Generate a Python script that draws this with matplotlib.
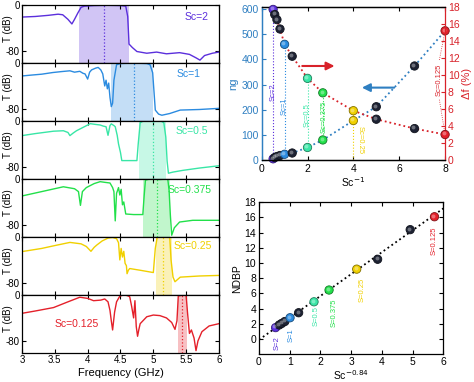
import matplotlib
matplotlib.use('Agg')
import matplotlib.pyplot as plt
import matplotlib.colors as mcolors
from matplotlib.transforms import offset_copy

# ---- transmission spectra (Frequency GHz, T dB) ----
f_sc2 = [3.0, 3.2, 3.4, 3.55, 3.62, 3.7, 3.76, 3.8, 3.85, 3.88, 3.9, 3.95, 4.1, 4.3, 4.5, 4.58,
         4.61, 4.63, 4.68, 4.75, 4.9, 5.05, 5.2, 5.4, 5.55, 5.65, 5.71, 5.78, 5.9, 6.0]
t_sc2 = [-21, -20, -18, -16, -17, -25, -33, -25, -14, -8, -4, -2, -1, -0.5, -1, -2,
         -20, -68, -74, -81, -84, -82, -85, -83, -86, -92, -96, -88, -84, -82]

f_sc1 = [3.0, 3.15, 3.3, 3.47, 3.6, 3.73, 3.8, 3.88, 3.93, 3.96, 4.0, 4.03, 4.06, 4.12, 4.16,
         4.2, 4.23, 4.26, 4.28, 4.3, 4.32, 4.34, 4.36, 4.38, 4.4, 4.44, 4.5, 4.7, 4.9, 4.95,
         4.99, 5.03, 5.08, 5.13, 5.25, 5.41, 5.7, 6.0]
t_sc1 = [-22.6, -21, -19.5, -16.6, -15, -13.6, -16, -14.5, -18, -19, -28, -16, -12, -9, -7.7,
         -12, -19, -40, -30, -45, -35, -60, -76, -70, -30, -3, -1, 0, -1, -3,
         -17, -82, -89, -91, -88, -82, -81, -79]

f_sc05 = [3.0, 3.2, 3.48, 3.63, 3.7, 3.73, 3.78, 3.83, 3.95, 4.04, 4.12, 4.19, 4.24, 4.28,
          4.31, 4.34, 4.36, 4.4, 4.42, 4.45, 4.47, 4.5, 4.52, 4.6, 4.75, 4.77, 4.8, 4.85,
          5.0, 5.12, 5.16, 5.19, 5.21, 5.23, 5.3, 5.45, 5.7, 6.0]
t_sc05 = [-25.5, -22, -17.8, -17, -20, -25.5, -21, -17, -10, -4.7, -6, -7, -9, -10,
          -25, -8, -5, -8, -10, -25, -40, -55, -69, -69, -69, -40, -3, 0,
          0, -0.5, -3, -28, -70, -91, -89, -86, -82, -78]

f_sc0375 = [3.0, 3.3, 3.63, 3.8, 3.86, 3.89, 3.92, 3.98, 4.1, 4.19, 4.27, 4.34, 4.38, 4.4,
            4.42, 4.44, 4.47, 4.49, 4.51, 4.53, 4.55, 4.58, 4.7, 4.84, 4.86, 4.88, 4.95,
            5.1, 5.22, 5.24, 5.26, 5.28, 5.32, 5.4, 5.6, 6.0]
t_sc0375 = [-29.6, -22, -13.6, -17, -22, -46, -22, -15, -8, -4.7, -6, -7, -15, -22,
            -73, -25, -15, -28, -18, -45, -40, -61, -62, -62, -30, -2, 0,
            -1, 0, -20, -64, -98, -85, -75, -72, -72]

f_sc025 = [3.0, 3.3, 3.5, 3.73, 3.9, 3.98, 4.05, 4.1, 4.14, 4.22, 4.31, 4.38, 4.44, 4.47,
           4.49, 4.51, 4.53, 4.55, 4.57, 4.59, 4.6, 4.62, 4.64, 4.8, 5.0, 5.03, 5.06, 5.15,
           5.25, 5.27, 5.3, 5.33, 5.37, 5.41, 5.7, 6.0]
t_sc025 = [-25.5, -20, -15, -9.5, -12, -16.6, -25, -18, -14, -7, -2, -1, -3, -10,
           -40, -20, -35, -25, -46, -50, -64, -58, -55, -58, -62, -20, 0, 0,
           -1, -40, -70, -78, -74, -70, -68, -67]

f_sc0125 = [3.0, 3.2, 3.48, 3.7, 3.88, 4.0, 4.09, 4.2, 4.26, 4.31, 4.34, 4.36, 4.38, 4.41,
            4.44, 4.49, 4.55, 4.6, 4.64, 4.67, 4.7, 4.72, 4.74, 4.76, 4.78, 4.8, 4.9, 5.0,
            5.1, 5.2, 5.28, 5.33, 5.36, 5.38, 5.45, 5.5, 5.52, 5.55, 5.58, 5.62, 5.65,
            5.68, 5.74, 5.85, 6.0]
t_sc0125 = [-32, -28, -22, -12, -4, -6, -10, -9, -7, -12, -27, -45, -61, -30,
            -12, -2, 0, -1, -3, -20, -40, -10, -55, -72, -60, -50, -38, -35,
            -36, -40, -48, -60, -45, -2, 0, -1, -30, -67, -61, -75, -97,
            -80, -64, -54, -50]

sc_labels = ['Sc=2', 'Sc=1', 'Sc=0.5', 'Sc=0.375', 'Sc=0.25', 'Sc=0.125']
band_lo = [3.87, 4.35, 4.78, 4.85, 5.04, 5.37]
band_hi = [4.63, 5.0, 5.2, 5.25, 5.28, 5.52]
band_center = [4.25, 4.70, 5.0, 5.05, 5.15, 5.44]
label_f = [5.66, 5.53, 5.58, 5.55, 5.6, 3.83]
label_t = [-21, -19.5, -18, -19, -16.5, -50]

# ---- ng and delta f versus 1/Sc ----
inv_sc = [0.5, 0.571, 0.667, 0.8, 1.0, 1.333, 2.0, 2.667, 4.0, 5.0, 6.667, 8.0]
ng = [5, 10, 14, 18, 23, 28, 50, 80, 157, 212, 374, 514]
delta_f = [17.7, 17.1, 16.5, 15.4, 13.6, 12.2, 9.6, 7.9, 5.8, 4.8, 3.7, 3.0]

# ---- NDBP versus Sc^-0.84 ----
sc_pow = [0.54, 0.66, 0.74, 0.84, 1.01, 1.29, 1.79, 2.28, 3.18, 3.86, 4.92, 5.71]
ndbp = [1.5, 1.85, 2.05, 2.3, 2.8, 3.46, 4.9, 6.45, 9.2, 10.5, 14.4, 16.1]
fit_x = [0.0, 6.0]
fit_y = [-0.1, 17.2]

c_sc2 = '#5b2fdc'
c_sc1 = '#2b8be0'
c_sc05 = '#38e6a6'
c_sc0375 = '#22e04a'
c_sc025 = '#f0d000'
c_sc0125 = '#e4202a'
c_dark = '#1d2233'
c_ng = '#2f7fc1'
c_df = '#d8222a'
sc_colors = [c_sc2, c_sc1, c_sc05, c_sc0375, c_sc025, c_sc0125]
point_colors = [c_sc2, c_dark, c_dark, c_dark, c_sc1, c_dark, c_sc05, c_sc0375, c_sc025,
                c_dark, c_dark, c_sc0125]

plt.rcParams['font.family'] = ['Liberation Sans', 'DejaVu Sans']
plt.rcParams['font.size'] = 7.5
plt.rcParams['xtick.direction'] = 'in'
plt.rcParams['ytick.direction'] = 'in'
plt.rcParams['axes.linewidth'] = 0.9
plt.rcParams['xtick.major.size'] = 3
plt.rcParams['ytick.major.size'] = 3

fig = plt.figure(figsize=(4.74, 3.82), dpi=100)


def balls(ax, x, y, colors, s=36):
    edges = [tuple(v * 0.55 for v in mcolors.to_rgb(c)) for c in colors]
    ax.scatter(x, y, s=s, c=colors, edgecolors=edges, linewidths=0.6, zorder=5, clip_on=False)
    hl = offset_copy(ax.transData, fig=fig, x=-0.8, y=0.8, units='points')
    ax.scatter(x, y, s=s * 0.22, c='white', alpha=0.35, linewidths=0, transform=hl,
               zorder=6, clip_on=False)


# ---- left stack of spectra ----
spectra = [(f_sc2, t_sc2), (f_sc1, t_sc1), (f_sc05, t_sc05),
           (f_sc0375, t_sc0375), (f_sc025, t_sc025), (f_sc0125, t_sc0125)]
top = 0.9869
h = 0.1518
for i, (f, t) in enumerate(spectra):
    ax = fig.add_axes([0.0464, top - (i + 1) * h, 0.4156, h])
    col = sc_colors[i]
    ax.axvspan(band_lo[i], band_hi[i], color=col, alpha=0.28, lw=0)
    ax.axvline(band_center[i], color=col, ls=':', lw=0.9)
    ax.plot(f, t, color=col, lw=1.0)
    ax.text(label_f[i], label_t[i], sc_labels[i], color=col, fontsize=7.5,
            ha='center', va='center')
    ax.set_xlim(3, 6)
    ax.set_ylim(-101, 0)
    ax.set_yticks([-80, 0])
    ax.set_yticklabels(['-80', '0'])
    ax.set_xticks([3, 3.5, 4, 4.5, 5, 5.5, 6])
    ax.tick_params(top=True, right=True, labelsize=7, pad=1.5)
    ax.set_ylabel('T (dB)', fontsize=7)
    ax.yaxis.set_label_coords(-0.045, 0.6)
    if i < 5:
        ax.set_xticklabels([])
    else:
        ax.set_xticklabels(['3', '3.5', '4', '4.5', '5', '5.5', '6'])
        ax.set_xlabel('Frequency (GHz)', fontsize=8, labelpad=2)

# ---- top right: ng and delta f ----
ax1 = fig.add_axes([0.552, 0.581, 0.387, 0.401])
ax2 = ax1.twinx()
ng_top = 609
scale = ng_top / 18.0
ax1.set_xlim(0, 8)
ax1.set_ylim(0, ng_top)
ax2.set_ylim(0, 18)
ax1.plot(inv_sc, ng, ':', color=c_ng, lw=1.3, zorder=3)
ax2.plot(inv_sc, delta_f, ':', color=c_df, lw=1.3, zorder=3)

# vertical guide lines from the ng point to the delta f point
for k, col in [(0, c_sc2), (4, c_sc1), (6, c_sc05), (7, c_sc0375)]:
    ax1.plot([inv_sc[k], inv_sc[k]], [ng[k], delta_f[k] * scale], ':', color=col, lw=0.8)
ax1.plot([inv_sc[8], inv_sc[8]], [0, delta_f[8] * scale], ':', color=c_sc025, lw=0.8)
ax1.plot([7.75, 8.0], [240, delta_f[11] * scale], ':', color=c_df, lw=0.6)
ax1.plot([7.75, 8.0], [398, ng[11]], ':', color=c_df, lw=0.6)

ax1.text(0.5, 270, 'Sc=2', color=c_sc2, rotation=90, fontsize=5.5, ha='center', va='center')
ax1.text(1.0, 215, 'Sc=1', color=c_sc1, rotation=90, fontsize=5.5, ha='center', va='center')
ax1.text(2.0, 180, 'Sc=0.5', color=c_sc05, rotation=90, fontsize=5.5, ha='center', va='center')
ax1.text(2.72, 170, 'Sc=0.375', color=c_sc0375, rotation=90, fontsize=5.5, ha='center', va='center')
ax1.text(4.28, 80, 'Sc=0.25', color=c_sc025, rotation=270, fontsize=5.5, ha='center', va='center')
ax1.text(7.75, 320, 'Sc=0.125', color=c_df, rotation=90, fontsize=5.5, ha='center', va='center')

ax1.annotate('', xy=(3.3, 374), xytext=(1.65, 374),
             arrowprops=dict(arrowstyle='-|>', color=c_df, lw=1.5, mutation_scale=12))
ax1.annotate('', xy=(4.25, 288), xytext=(5.9, 288),
             arrowprops=dict(arrowstyle='-|>', color=c_ng, lw=1.5, mutation_scale=12))

balls(ax1, inv_sc, ng, point_colors)
balls(ax2, inv_sc, delta_f, point_colors)

ax1.set_xticks([0, 2, 4, 6, 8])
ax1.set_yticks(range(0, 601, 100))
ax2.set_yticks(range(0, 19, 2))
ax1.tick_params(axis='y', colors=c_ng, labelsize=7.5, pad=2)
ax1.tick_params(axis='x', labelsize=7.5, pad=3, top=True)
ax2.tick_params(axis='y', colors=c_df, labelsize=7.5, pad=2)
ax1.spines['left'].set_color(c_ng)
ax2.spines['left'].set_color(c_ng)
ax2.spines['right'].set_color(c_df)
ax1.spines['right'].set_visible(False)
ax1.set_ylabel('ng', color=c_ng, fontsize=8, labelpad=2)
ax2.set_ylabel('\u0394f (%)', color=c_df, fontsize=8, labelpad=2)
ax1.set_xlabel('Sc$^{-1}$', fontsize=7.5, labelpad=1)

# ---- bottom right: NDBP ----
ax3 = fig.add_axes([0.5464, 0.0728, 0.389, 0.3976])
ax3.plot(fit_x, fit_y, ':', color='black', lw=1.3, zorder=3)
balls(ax3, sc_pow, ndbp, point_colors)
ax3.set_xlim(0, 6)
ax3.set_ylim(-2, 18)
ax3.set_xticks(range(0, 7))
ax3.set_yticks(range(0, 19, 2))
ax3.tick_params(labelsize=7.5, pad=2, top=True, right=True)
ax3.set_ylabel('NDBP', fontsize=7.5, labelpad=2)
ax3.set_xlabel('Sc$^{-0.84}$', fontsize=7.5, labelpad=1)
ax3.text(0.6, -0.6, 'S=2', color=c_sc2, rotation=90, fontsize=5.5, ha='center', va='center')
ax3.text(1.06, 0.5, 'S=1', color=c_sc1, rotation=90, fontsize=5.5, ha='center', va='center')
ax3.text(1.86, 3.0, 'S=0.5', color=c_sc05, rotation=90, fontsize=5.5, ha='center', va='center')
ax3.text(2.45, 3.4, 'S=0.375', color=c_sc0375, rotation=90, fontsize=5.5, ha='center', va='center')
ax3.text(3.35, 6.45, 'S=0.25', color=c_sc025, rotation=90, fontsize=5.5, ha='center', va='center')
ax3.text(5.71, 12.9, 'S=0.125', color=c_sc0125, rotation=90, fontsize=5.5, ha='center', va='center')

fig.savefig('out.png', dpi=100)
